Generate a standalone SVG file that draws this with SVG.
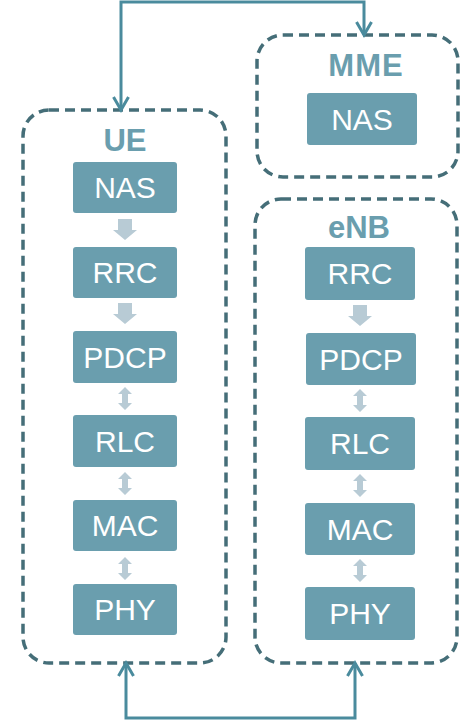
<svg xmlns="http://www.w3.org/2000/svg" width="474" height="720" viewBox="0 0 474 720">
<style>
.grp{fill:none;stroke:#456e78;stroke-width:3.5;stroke-dasharray:10 6}
.node rect{fill:#6a9eae}
.node text{fill:#ffffff;font-family:"Liberation Sans",Arial,sans-serif;font-size:30px;text-anchor:middle}
.lbl{fill:#6a9eae;font-family:"Liberation Sans",Arial,sans-serif;font-size:31px;font-weight:bold;text-anchor:middle}
.conn{fill:none;stroke:#4a8b9d;stroke-width:3}
.blk{fill:#b8cbd5}
</style>
<defs>
<marker id="v" markerUnits="userSpaceOnUse" markerWidth="22" markerHeight="22" viewBox="-16 -11 22 22" refX="0" refY="0" orient="auto-start-reverse">
<path d="M-13,-7.5 L0,0 L-13,7.5" fill="none" stroke="#4a8b9d" stroke-width="3"/>
</marker>
<path id="down" d="M-7,0 H7 V11 H12 L0,21 L-12,11 H-7 Z"/>
<path id="dbl" d="M0,0 L7,7 H3 V16 H7 L0,23 L-7,16 H-3 V7 H-7 Z"/>
</defs>

<g id="ue">
<rect class="grp" x="23" y="110" width="203" height="553" rx="26"/>
<text class="lbl" x="125" y="151">UE</text>
</g>
<g id="mme">
<rect class="grp" x="257" y="35" width="201" height="142" rx="26"/>
<text class="lbl" x="366" y="76" letter-spacing="1">MME</text>
</g>
<g id="enb">
<rect class="grp" x="255" y="199" width="202" height="464" rx="26"/>
<text class="lbl" x="359" y="238">eNB</text>
</g>

<g id="ue-nas" class="node"><rect x="73" y="162" width="104" height="51" rx="3"/><text x="125" y="198">NAS</text></g>
<g id="ue-rrc" class="node"><rect x="73" y="247" width="104" height="51" rx="3"/><text x="125" y="283">RRC</text></g>
<g id="ue-pdcp" class="node"><rect x="73" y="331" width="104" height="52" rx="3"/><text x="125" y="368">PDCP</text></g>
<g id="ue-rlc" class="node"><rect x="73" y="415" width="104" height="52" rx="3"/><text x="125" y="452">RLC</text></g>
<g id="ue-mac" class="node"><rect x="73" y="500" width="104" height="51" rx="3"/><text x="125" y="536">MAC</text></g>
<g id="ue-phy" class="node"><rect x="73" y="584" width="104" height="51" rx="3"/><text x="125" y="620">PHY</text></g>

<g id="mme-nas" class="node"><rect x="307" y="93" width="110" height="52" rx="3"/><text x="362" y="130">NAS</text></g>

<g id="enb-rrc" class="node"><rect x="305" y="247" width="110" height="53" rx="3"/><text x="360" y="284">RRC</text></g>
<g id="enb-pdcp" class="node"><rect x="306" y="333" width="110" height="52" rx="3"/><text x="361" y="370">PDCP</text></g>
<g id="enb-rlc" class="node"><rect x="305" y="417" width="110" height="53" rx="3"/><text x="360" y="454">RLC</text></g>
<g id="enb-mac" class="node"><rect x="305" y="503" width="110" height="52" rx="3"/><text x="360" y="540">MAC</text></g>
<g id="enb-phy" class="node"><rect x="305" y="587" width="110" height="53" rx="3"/><text x="360" y="624">PHY</text></g>

<g id="connectors">
<g class="blk">
<use href="#down" x="125" y="219"/>
<use href="#down" x="125" y="303"/>
<use href="#dbl" x="125" y="387"/>
<use href="#dbl" x="125" y="472"/>
<use href="#dbl" x="125" y="557"/>
<use href="#down" x="360" y="305"/>
<use href="#dbl" x="360" y="389"/>
<use href="#dbl" x="360" y="474"/>
<use href="#dbl" x="360" y="559"/>
</g>
<path class="conn" d="M121,110 V2 H364 V35" marker-start="url(#v)" marker-end="url(#v)"/>
<path class="conn" d="M126,663 V718 H355 V663" marker-start="url(#v)" marker-end="url(#v)"/>
</g>
</svg>
